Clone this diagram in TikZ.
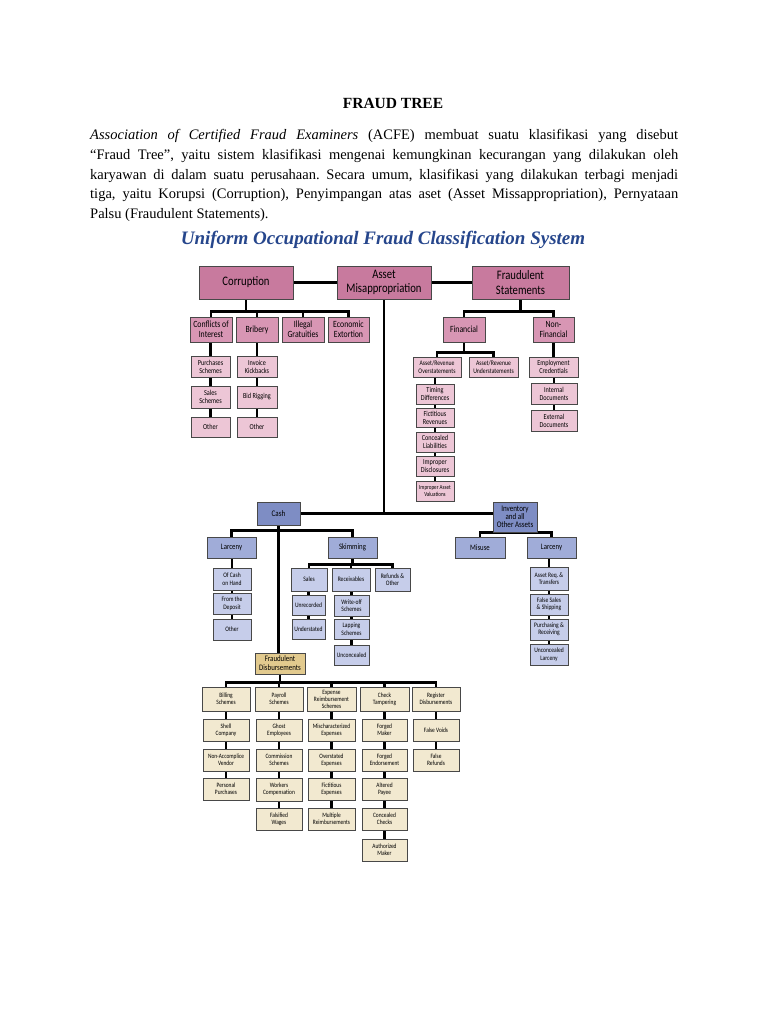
\documentclass[tikz,border=0pt]{standalone}
\usepackage{fontspec}
\setmainfont{Liberation Serif}
\newfontfamily\chartfont[FakeStretch=0.82]{Carlito}
\usetikzlibrary{backgrounds,shadows}
\frenchspacing
\definecolor{pinkD}{RGB}{200,122,158}
\definecolor{pinkM}{RGB}{216,150,180}
\definecolor{pinkL}{RGB}{237,198,214}
\definecolor{blueD}{RGB}{126,141,196}
\definecolor{blueM}{RGB}{160,172,216}
\definecolor{blueL}{RGB}{198,205,234}
\definecolor{tanD}{RGB}{226,202,142}
\definecolor{tanL}{RGB}{242,233,208}
\definecolor{edgeC}{RGB}{72,72,72}
\definecolor{subblue}{RGB}{38,70,140}
\newcommand\mybox[7]{\node[#1, minimum width={(#5-#3)*1pt}, minimum height={(#6-#4)*1pt}] (#2) at ({(#3+#5)/2},{(#4+#6)/2}) {#7};}
\tikzset{
  bx/.style={draw=edgeC, line width=0.9pt, inner sep=0.3pt, align=center,
    drop shadow={shadow xshift=0.8pt, shadow yshift=-0.8pt, fill=black!40}},
  topbox/.style={bx, fill=pinkD, font=\chartfont\fontsize{13}{14.5}\selectfont},
  pktwo/.style={bx, fill=pinkM, font=\chartfont\fontsize{9.5}{10}\selectfont},
  pkthree/.style={bx, fill=pinkL, font=\chartfont\fontsize{7.6}{8}\selectfont},
  pkfour/.style={bx, fill=pinkL, font=\chartfont\fontsize{7}{7.6}\selectfont},
  pkfive/.style={bx, fill=pinkL, font=\chartfont\fontsize{6.2}{7.2}\selectfont},
  blone/.style={bx, fill=blueD, font=\chartfont\fontsize{8.6}{8.2}\selectfont},
  bltwo/.style={bx, fill=blueM, font=\chartfont\fontsize{8.3}{8.6}\selectfont},
  blthree/.style={bx, fill=blueL, font=\chartfont\fontsize{6.8}{7.4}\selectfont},
  tnone/.style={bx, fill=tanD, font=\chartfont\fontsize{8.4}{9}\selectfont},
  tntwo/.style={bx, fill=tanL, font=\chartfont\fontsize{6.6}{7}\selectfont},
  tnthree/.style={bx, fill=tanL, font=\chartfont\fontsize{6.6}{7.4}\selectfont},
  conn/.style={draw=black, line width=2.3pt},
  topconn/.style={draw=black, line width=2.8pt},
  para/.style={anchor=base west, inner sep=0pt, font=\fontsize{14.5}{16}\selectfont}
}
\begin{document}
\begin{tikzpicture}[x=1pt,y=-1pt]
\useasboundingbox (0,0) rectangle (768,1024);
% texts
\node[font=\bfseries\fontsize{15.5}{17}\selectfont] (title) at (393,103) {FRAUD TREE};
\node[para] (l1) at (90,139.5) {\makebox[588pt][s]{\textit{Association of Certified Fraud Examiners} (ACFE) membuat suatu klasifikasi yang disebut}};
\node[para] (l2) at (90,159.3) {\makebox[588pt][s]{“Fraud Tree”, yaitu sistem klasifikasi mengenai kemungkinan kecurangan yang dilakukan oleh}};
\node[para] (l3) at (90,179.1) {\makebox[588pt][s]{karyawan di dalam suatu perusahaan. Secara umum, klasifikasi yang dilakukan terbagi menjadi}};
\node[para] (l4) at (90,198.9) {\makebox[588pt][s]{tiga, yaitu Korupsi (Corruption), Penyimpangan atas aset (Asset Missappropriation), Pernyataan}};
\node[para] (l5) at (90,218.7) {Palsu (Fraudulent Statements).};
\node[font=\bfseries\itshape\fontsize{19}{21}\selectfont, text=subblue] (sub) at (383,240) {Uniform Occupational Fraud Classification System};
% top row
\mybox{topbox}{corr}{199}{266}{293}{299}{Corruption}
\mybox{topbox}{asset}{337}{266}{431}{299}{Asset\\Misappropriation}
\mybox{topbox}{fs}{472}{266}{569}{299}{Fraudulent\\Statements}
% corruption
\mybox{pktwo}{coi}{190}{317}{232}{342}{Conflicts of\\Interest}
\mybox{pktwo}{brib}{236}{317}{278}{342}{Bribery}
\mybox{pktwo}{ill}{282}{317}{324}{342}{Illegal\\Gratuities}
\mybox{pktwo}{eco}{328}{317}{369}{342}{Economic\\Extortion}
\mybox{pkthree}{ps}{191}{356}{230}{377}{Purchases\\Schemes}
\mybox{pkthree}{ss}{191}{386}{230}{408}{Sales\\Schemes}
\mybox{pkthree}{othA}{191}{417}{230}{437}{Other}
\mybox{pkthree}{ik}{237}{356}{277}{377}{Invoice\\Kickbacks}
\mybox{pkthree}{bid}{237}{386}{277}{408}{Bid Rigging}
\mybox{pkthree}{othB}{237}{417}{277}{437}{Other}
% fraudulent statements
\mybox{pktwo}{fin}{443}{317}{485}{342}{Financial}
\mybox{pktwo}{nf}{533}{317}{574}{342}{Non-\\Financial}
\mybox{pkfour}{aro}{413}{357}{461}{377}{Asset/Revenue\\Overstatements}
\mybox{pkfour}{aru}{469}{357}{518}{377}{Asset/Revenue\\Understatements}
\mybox{pkthree}{td}{416}{384}{454}{404}{Timing\\Differences}
\mybox{pkthree}{fr}{416}{408}{454}{427}{Fictitious\\Revenues}
\mybox{pkthree}{cl}{416}{432}{454}{452}{Concealed\\Liabilities}
\mybox{pkthree}{idis}{416}{456}{454}{476}{Improper\\Disclosures}
\mybox{pkfive}{iav}{416}{481}{454}{501}{Improper Asset\\Valuations}
\mybox{pkthree}{ec}{529}{357}{578}{377}{Employment\\Credentials}
\mybox{pkthree}{intd}{531}{383}{577}{404}{Internal\\Documents}
\mybox{pkthree}{extd}{531}{410}{577}{431}{External\\Documents}
% cash
\mybox{blone}{cash}{257}{502}{300}{525}{Cash}
\mybox{blone}{inv}{493}{502}{537}{532}{Inventory\\and all\\Other Assets}
\mybox{bltwo}{larc}{207}{537}{256}{558}{Larceny}
\mybox{bltwo}{skim}{328}{537}{377}{558}{Skimming}
\mybox{blthree}{och}{213}{568}{251}{590}{Of Cash\\on Hand}
\mybox{blthree}{ftd}{213}{593}{251}{614}{From the\\Deposit}
\mybox{blthree}{othC}{213}{619}{251}{640}{Other}
\mybox{blthree}{sal}{291}{568}{327}{591}{Sales}
\mybox{blthree}{rec}{332}{568}{370}{591}{Receivables}
\mybox{blthree}{ref}{375}{568}{410}{591}{Refunds \&\\Other}
\mybox{blthree}{unr}{292}{595}{325}{615}{Unrecorded}
\mybox{blthree}{und}{292}{619}{325}{639}{Understated}
\mybox{blthree}{wos}{334}{595}{369}{616}{Write-off\\Schemes}
\mybox{blthree}{laps}{334}{619}{369}{639}{Lapping\\Schemes}
\mybox{blthree}{unc}{334}{645}{369}{665}{Unconcealed}
\mybox{bltwo}{mis}{455}{537}{505}{558}{Misuse}
\mybox{bltwo}{larcB}{527}{537}{576}{558}{Larceny}
\mybox{blthree}{arq}{530}{567}{568}{590}{Asset Req. \&\\Transfers}
\mybox{blthree}{fss}{530}{594}{568}{615}{False Sales\\\& Shipping}
\mybox{blthree}{pr}{530}{619}{568}{640}{Purchasing \&\\Receiving}
\mybox{blthree}{ul}{530}{644}{568}{665}{Unconcealed\\Larceny}
% fraudulent disbursements
\mybox{tnone}{fd}{255}{653}{305}{674}{Fraudulent\\Disbursements}
\mybox{tntwo}{bill}{202}{687}{250}{711}{Billing\\Schemes}
\mybox{tntwo}{pay}{255}{687}{303}{711}{Payroll\\Schemes}
\mybox{tntwo}{exp}{307}{687}{356}{711}{Expense\\Reimbursement\\Schemes}
\mybox{tntwo}{chk}{360}{687}{409}{711}{Check\\Tampering}
\mybox{tntwo}{reg}{412}{687}{460}{711}{Register\\Disbursements}
\mybox{tnthree}{shell}{203}{719}{249}{741}{Shell\\Company}
\mybox{tnthree}{nav}{203}{749}{249}{771}{Non-Accomplice\\Vendor}
\mybox{tnthree}{pp}{203}{778}{249}{800}{Personal\\Purchases}
\mybox{tnthree}{ghost}{256}{719}{302}{741}{Ghost\\Employees}
\mybox{tnthree}{comm}{256}{749}{302}{771}{Commission\\Schemes}
\mybox{tnthree}{wc}{256}{778}{302}{801}{Workers\\Compensation}
\mybox{tnthree}{fw}{256}{808}{302}{830}{Falsified\\Wages}
\mybox{tnthree}{misc}{308}{719}{355}{741}{Mischaracterized\\Expenses}
\mybox{tnthree}{ove}{308}{749}{355}{771}{Overstated\\Expenses}
\mybox{tnthree}{fe}{308}{778}{355}{800}{Fictitious\\Expenses}
\mybox{tnthree}{mr}{308}{808}{355}{830}{Multiple\\Reimbursements}
\mybox{tnthree}{fm}{362}{719}{407}{741}{Forged\\Maker}
\mybox{tnthree}{fen}{362}{749}{407}{771}{Forged\\Endorsement}
\mybox{tnthree}{ap}{362}{778}{407}{800}{Altered\\Payee}
\mybox{tnthree}{cc}{362}{808}{407}{830}{Concealed\\Checks}
\mybox{tnthree}{am}{362}{839}{407}{861}{Authorized\\Maker}
\mybox{tnthree}{fv}{413}{719}{459}{741}{False Voids}
\mybox{tnthree}{fref}{413}{749}{459}{771}{False\\Refunds}
% connectors
\begin{pgfonlayer}{background}
\fill[white] (0,0) rectangle (768,1024);
\draw[topconn] (corr.east) -- (asset.west);
\draw[topconn] (asset.east) -- (fs.west);
\foreach \c in {coi,brib,ill,eco} \draw[conn] (corr.south) -- ++(0,12) -| (\c.north);
\foreach \c in {fin,nf} \draw[conn] (fs.south) -- ++(0,12) -| (\c.north);
\foreach \c in {aro,aru} \draw[conn] (fin.south) -- ++(0,10) -| (\c.north);
\draw[conn] (asset.south) -- (asset.south |- cash.east);
\draw[conn] (cash.east) -- (cash.east -| inv.west);
\foreach \c in {larc,skim} \draw[conn] (cash.south) -- ++(0,5) -| (\c.north);
\draw[conn] (cash.south) -- (cash.south |- fd.north);
\foreach \c in {sal,rec,ref} \draw[conn] (skim.south) -- ++(0,6) -| (\c.north);
\foreach \c in {mis,larcB} \draw[conn] (inv.south) -| (\c.north);
\foreach \c in {bill,pay,exp,chk,reg} \draw[conn] (fd.south) -- ++(0,8) -| (\c.north);
\draw[conn] (td.north |- aro.south) -- (td.north);
\foreach \a/\b in {coi/ps,ps/ss,ss/othA,brib/ik,ik/bid,bid/othB,
  td/fr,fr/cl,cl/idis,idis/iav,nf/ec,ec/intd,intd/extd,
  larc/och,och/ftd,ftd/othC,sal/unr,unr/und,rec/wos,wos/laps,laps/unc,
  larcB/arq,arq/fss,fss/pr,pr/ul,
  bill/shell,shell/nav,nav/pp,pay/ghost,ghost/comm,comm/wc,wc/fw,
  exp/misc,misc/ove,ove/fe,fe/mr,chk/fm,fm/fen,fen/ap,ap/cc,cc/am,
  reg/fv,fv/fref}
  \draw[conn] (\b.north |- \a.south) -- (\b.north);
\end{pgfonlayer}
\end{tikzpicture}
\end{document}
